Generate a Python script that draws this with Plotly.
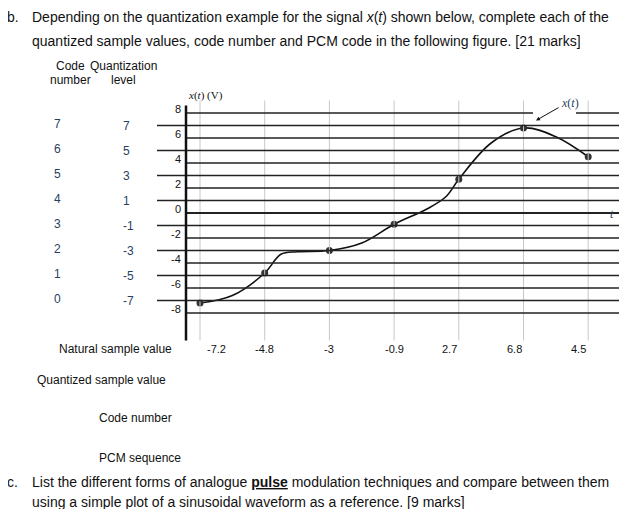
import plotly.graph_objects as go

sample_t = [0, 1, 2, 3, 4, 5, 6]
sample_v = [-7.2, -4.8, -3, -0.9, 2.7, 6.8, 4.5]
sample_labels = ["-7.2", "-4.8", "-3", "-0.9", "2.7", "6.8", "4.5"]
curve_t = [0, 0.5, 1, 1.25, 1.5, 2, 2.5, 3, 3.5, 3.8, 4, 4.5, 5, 5.5, 6]
curve_v = [-7.2, -6.6, -4.8, -3.3, -3.1, -3, -2.4, -0.9, 0.3, 1.3, 2.7, 5.6, 6.8, 6.1, 4.5]
code_numbers = [7, 6, 5, 4, 3, 2, 1, 0]
quant_levels = [7, 5, 3, 1, -1, -3, -5, -7]
tick_vals = [8, 6, 4, 2, 0, -2, -4, -6, -8]

OFF = 8
W, H = 628 - 2 * OFF, 517 - 2 * OFF
px_per_t = 64.7
px_per_v = 12.5
x0_px, y0_px = 200 - OFF, 213 - OFF
L, R, T, B = 150 - OFF, 619 - OFF, 90 - OFF, 345 - OFF
xr = [(L - x0_px) / px_per_t, (R - x0_px) / px_per_t]
yr = [(y0_px - B) / px_per_v, (y0_px - T) / px_per_v]

def X(px):
    return (px - OFF - x0_px) / px_per_t

def PX(t):
    return (x0_px + t * px_per_t) / W

fig = go.Figure()
shapes = []
for t in sample_t:
    shapes.append(dict(type="line", x0=t, x1=t, y0=9.0, y1=-10.2,
                       line=dict(color="#c8c8c8", width=1)))
for v in range(-8, 9):
    xs = X(186) if v % 2 == 0 else X(157)
    w = 2.2 if v == 0 else 1.6
    if v == 8:
        shapes.append(dict(type="line", x0=X(186), x1=X(533), y0=v, y1=v, line=dict(color="#222", width=w)))
        shapes.append(dict(type="line", x0=X(576), x1=X(619), y0=v, y1=v, line=dict(color="#222", width=w)))
    else:
        shapes.append(dict(type="line", x0=xs, x1=X(619), y0=v, y1=v,
                           line=dict(color="#222", width=w)))
shapes.append(dict(type="line", x0=X(186), x1=X(186), y0=8.6, y1=-10.2,
                   line=dict(color="#111", width=2.5)))

fig.add_trace(go.Scatter(x=curve_t, y=curve_v, mode="lines", line=dict(color="#111", width=1.6, shape="spline"),
                         hoverinfo="skip"))
fig.add_trace(go.Scatter(x=sample_t, y=sample_v, mode="markers", marker=dict(color="#333", size=7),
                         hoverinfo="skip"))

ann = []
fs = dict(family="Liberation Sans", size=11, color="#111")
for v in tick_vals:
    ann.append(dict(x=X(183), y=v + 0.35, text=str(v), showarrow=False, xanchor="right", font=fs))
for c, q in zip(code_numbers, quant_levels):
    ann.append(dict(xref="paper", yref="y", x=(52 - OFF) / W, y=q + 0.1, text=str(c), showarrow=False, font=dict(family="Liberation Sans", size=12)))
    ann.append(dict(xref="paper", yref="y", x=(121 - OFF) / W, y=q, text=str(q), showarrow=False, font=dict(family="Liberation Sans", size=12)))
for t, s in zip(sample_t, sample_labels):
    ann.append(dict(xref="paper", yref="paper", x=PX(t + (0.08 if t == 0 else 0)), y=1 - (349 - OFF) / H,
                    yanchor="middle", text=s, showarrow=False, font=fs))
ann.append(dict(x=X(205), y=9.4, text="<i>x</i>(<i>t</i>) (V)", showarrow=False, font=dict(family="Liberation Serif", size=11, color="#111")))
ann.append(dict(x=X(612), y=-0.1, text="<i>t</i>", showarrow=False, font=dict(family="Liberation Serif", size=12)))
ann.append(dict(x=X(570), y=8.8, text="<i>x</i>(<i>t</i>)", showarrow=False, font=dict(family="Liberation Serif", size=12)))
ann.append(dict(x=X(536), y=7.4, ax=X(560), ay=8.5, axref="x", ayref="y", text="", showarrow=True,
                arrowhead=2, arrowsize=0.8, arrowwidth=1, arrowcolor="#111"))

def ptext(x, y, text, size=12, anchor="left"):
    ann.append(dict(xref="paper", yref="paper", x=(x - OFF) / W, y=1 - (y - OFF) / H, text=text, showarrow=False,
                    xanchor=anchor, yanchor="middle", font=dict(family="Liberation Sans", size=size, color="#111")))

ptext(5, 17, "b.", 14)
ptext(30, 17, "Depending on the quantization example for the signal <i>x</i>(<i>t</i>) shown below, complete each of the", 14)
ptext(30, 41, "quantized sample values, code number and PCM code in the following figure. [21 marks]", 14)
ptext(70, 66, "Code", 12, "center")
ptext(70, 80, "number", 12, "center")
ptext(123, 66, "Quantization", 12, "center")
ptext(123, 80, "level", 12, "center")
ptext(57, 349, "Natural sample value", 12)
ptext(35, 380, "Quantized sample value", 12)
ptext(97, 418, "Code number", 12)
ptext(97, 458, "PCM sequence", 12)
ptext(5, 482, "c.", 14)
ptext(30, 482, "List the different forms of analogue <u><b>pulse</b></u> modulation techniques and compare between them", 14)
ptext(30, 502, "using a simple plot of a sinusoidal waveform as a reference. [9 marks]", 14)

fig.update_layout(width=W, height=H, margin=dict(l=0, r=0, t=0, b=0), showlegend=False,
                  paper_bgcolor="white", plot_bgcolor="white", shapes=shapes, annotations=ann,
                  xaxis=dict(range=xr, domain=[L / W, R / W], visible=False, fixedrange=True),
                  yaxis=dict(range=yr, domain=[1 - B / H, 1 - T / H], visible=False, fixedrange=True))
fig.write_html("out.html")
